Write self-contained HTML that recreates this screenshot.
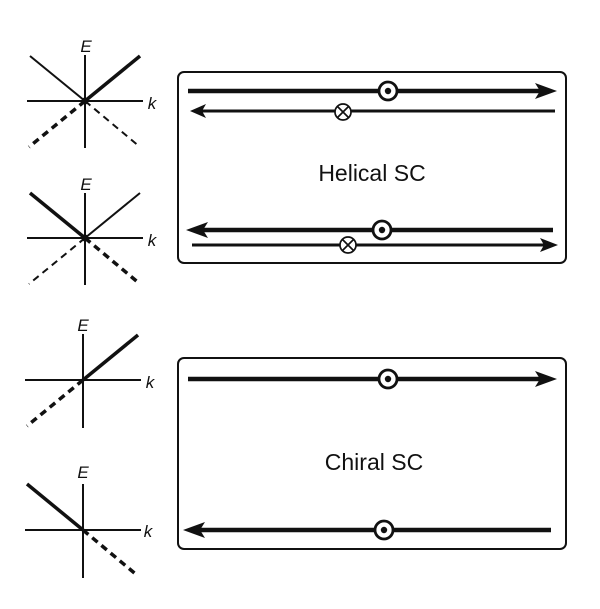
<!DOCTYPE html>
<html><head><style>html,body{margin:0;padding:0;background:#fff}</style></head><body>
<svg width="600" height="609" viewBox="0 0 600 609" xmlns="http://www.w3.org/2000/svg" style="display:block">
<g stroke="#111" fill="none" stroke-linecap="butt">
<line x1="85" y1="55" x2="85" y2="148" stroke-width="2"/>
<line x1="27" y1="101" x2="143" y2="101" stroke-width="2"/>
<line x1="30" y1="56" x2="85" y2="101" stroke-width="2"/>
<line x1="85" y1="101" x2="140" y2="56" stroke-width="3.5"/>
<line x1="85" y1="101" x2="29" y2="147" stroke-width="3.5" stroke-dasharray="7,5"/>
<line x1="85" y1="101" x2="140" y2="147" stroke-width="2" stroke-dasharray="7,5"/>
<line x1="85" y1="193" x2="85" y2="285" stroke-width="2"/>
<line x1="27" y1="238" x2="143" y2="238" stroke-width="2"/>
<line x1="30" y1="193" x2="85" y2="238" stroke-width="3.5"/>
<line x1="85" y1="238" x2="140" y2="193" stroke-width="2"/>
<line x1="85" y1="238" x2="29" y2="284" stroke-width="2" stroke-dasharray="7,5"/>
<line x1="85" y1="238" x2="140" y2="284" stroke-width="3.5" stroke-dasharray="7,5"/>
<line x1="83" y1="334" x2="83" y2="428" stroke-width="2"/>
<line x1="25" y1="380" x2="141" y2="380" stroke-width="2"/>
<line x1="83" y1="380" x2="138" y2="335" stroke-width="3.5"/>
<line x1="83" y1="380" x2="27" y2="426" stroke-width="3.5" stroke-dasharray="7,5"/>
<line x1="83" y1="484" x2="83" y2="578" stroke-width="2"/>
<line x1="25" y1="530" x2="141" y2="530" stroke-width="2"/>
<line x1="27" y1="484" x2="83" y2="530" stroke-width="3.5"/>
<line x1="83" y1="530" x2="138" y2="576" stroke-width="3.5" stroke-dasharray="7,5"/>
<circle cx="85" cy="101" r="3" fill="#111"/>
<circle cx="85" cy="238" r="3" fill="#111"/>
<rect x="178" y="72" width="388" height="191" rx="6" stroke-width="2"/>
<rect x="178" y="358" width="388" height="191" rx="6" stroke-width="2"/>
<line x1="188" y1="91" x2="545" y2="91" stroke-width="4.5"/>
<line x1="198" y1="111" x2="555" y2="111" stroke-width="3"/>
<line x1="197" y1="230" x2="553" y2="230" stroke-width="4.5"/>
<line x1="192" y1="245" x2="548" y2="245" stroke-width="3"/>
<line x1="188" y1="379" x2="545" y2="379" stroke-width="4.5"/>
<line x1="193" y1="530" x2="551" y2="530" stroke-width="4.5"/>
</g>
<g fill="#111">
<polygon points="557,91 535,83 540,91 535,99"/>
<polygon points="190,111 206,104 202,111 206,118"/>
<polygon points="186,230 208,222 203,230 208,238"/>
<polygon points="558,245 540,238 544,245 540,252"/>
<polygon points="557,379 535,371 540,379 535,387"/>
<polygon points="183,530 205,522 200,530 205,538"/>
</g>
<g stroke="#111" stroke-width="2.8" fill="#fff">
<circle cx="388" cy="91" r="9"/>
<circle cx="382" cy="230" r="9"/>
<circle cx="388" cy="379" r="9"/>
<circle cx="384" cy="530" r="9"/>
</g>
<g fill="#111">
<circle cx="388" cy="91" r="3.2"/>
<circle cx="382" cy="230" r="3.2"/>
<circle cx="388" cy="379" r="3.2"/>
<circle cx="384" cy="530" r="3.2"/>
</g>
<g stroke="#111" stroke-width="1.7" fill="#fff">
<circle cx="343" cy="112" r="8"/>
<circle cx="348" cy="245" r="8"/>
<path d="M337.5,106.5 L348.5,117.5 M348.5,106.5 L337.5,117.5"/>
<path d="M342.5,239.5 L353.5,250.5 M353.5,239.5 L342.5,250.5"/>
</g>
<g font-family="Liberation Sans, sans-serif" fill="#111">
<text x="372" y="181" font-size="23" text-anchor="middle">Helical SC</text>
<text x="374" y="470" font-size="23" text-anchor="middle">Chiral SC</text>
<g font-style="italic" font-size="17" text-anchor="middle">
<text x="86" y="52">E</text><text x="152" y="109">k</text>
<text x="86" y="190">E</text><text x="152" y="246">k</text>
<text x="83" y="331">E</text><text x="150" y="388">k</text>
<text x="83" y="478">E</text><text x="148" y="537">k</text>
</g>
</g>
</svg>
</body></html>
